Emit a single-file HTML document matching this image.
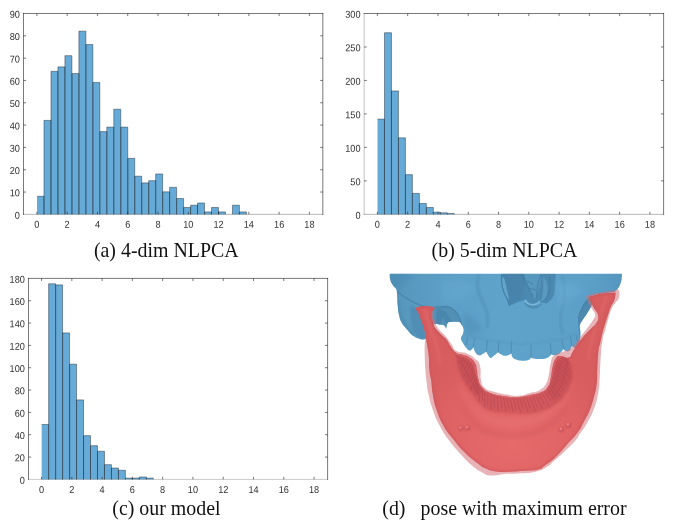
<!DOCTYPE html>
<html lang="en"><head><meta charset="utf-8"><title>Figure</title>
<style>
html,body{margin:0;padding:0;background:#fff;}
body{width:673px;height:528px;overflow:hidden;}
svg{display:block}
.bar{fill:#66aad7}
.edge{fill:none;stroke:#16232e;stroke-width:0.55;stroke-opacity:0.8}
.box{fill:none;stroke-linecap:square;stroke:#262626;stroke-width:0.62}
.tick{fill:none;stroke:#262626;stroke-width:0.62}
.tl{font-family:"Liberation Sans",sans-serif;font-size:10px;fill:#303030}
.cap{font-family:"Liberation Serif",serif;font-size:19.9px;fill:#111}
</style></head>
<body>
<svg width="673" height="528" viewBox="0 0 673 528">
<rect width="673" height="528" fill="#fff"/>
<g id="plot-a">
<rect x="37.00" y="196.30" width="6.98" height="18.05" class="bar"/>
<rect x="43.98" y="120.42" width="6.98" height="93.93" class="bar"/>
<rect x="50.96" y="71.32" width="6.98" height="143.03" class="bar"/>
<rect x="57.94" y="66.86" width="6.98" height="147.49" class="bar"/>
<rect x="64.92" y="55.70" width="6.98" height="158.65" class="bar"/>
<rect x="71.90" y="73.55" width="6.98" height="140.80" class="bar"/>
<rect x="78.88" y="31.15" width="6.98" height="183.20" class="bar"/>
<rect x="85.86" y="44.54" width="6.98" height="169.81" class="bar"/>
<rect x="92.84" y="82.48" width="6.98" height="131.87" class="bar"/>
<rect x="99.82" y="131.58" width="6.98" height="82.77" class="bar"/>
<rect x="106.80" y="127.11" width="6.98" height="87.23" class="bar"/>
<rect x="113.78" y="109.26" width="6.98" height="105.09" class="bar"/>
<rect x="120.76" y="127.11" width="6.98" height="87.23" class="bar"/>
<rect x="127.74" y="158.36" width="6.98" height="55.99" class="bar"/>
<rect x="134.72" y="176.21" width="6.98" height="38.14" class="bar"/>
<rect x="141.70" y="182.91" width="6.98" height="31.44" class="bar"/>
<rect x="148.68" y="180.68" width="6.98" height="33.67" class="bar"/>
<rect x="155.66" y="173.98" width="6.98" height="40.37" class="bar"/>
<rect x="162.64" y="191.83" width="6.98" height="22.52" class="bar"/>
<rect x="169.62" y="187.37" width="6.98" height="26.98" class="bar"/>
<rect x="176.60" y="198.53" width="6.98" height="15.82" class="bar"/>
<rect x="183.58" y="207.46" width="6.98" height="6.89" class="bar"/>
<rect x="190.56" y="205.22" width="6.98" height="9.13" class="bar"/>
<rect x="197.54" y="202.99" width="6.98" height="11.36" class="bar"/>
<rect x="204.52" y="211.92" width="6.98" height="2.43" class="bar"/>
<rect x="211.50" y="207.46" width="6.98" height="6.89" class="bar"/>
<rect x="218.48" y="211.92" width="6.98" height="2.43" class="bar"/>
<rect x="232.44" y="205.22" width="6.98" height="9.13" class="bar"/>
<rect x="239.42" y="211.92" width="6.98" height="2.43" class="bar"/>
<path d="M37.00 196.30h6.98V214.35M43.98 214.35V120.42h6.98V214.35M50.96 214.35V71.32h6.98V214.35M57.94 214.35V66.86h6.98V214.35M64.92 214.35V55.70h6.98V214.35M71.90 214.35V73.55h6.98V214.35M78.88 214.35V31.15h6.98V214.35M85.86 214.35V44.54h6.98V214.35M92.84 214.35V82.48h6.98V214.35M99.82 214.35V131.58h6.98V214.35M106.80 214.35V127.11h6.98V214.35M113.78 214.35V109.26h6.98V214.35M120.76 214.35V127.11h6.98V214.35M127.74 214.35V158.36h6.98V214.35M134.72 214.35V176.21h6.98V214.35M141.70 214.35V182.91h6.98V214.35M148.68 214.35V180.68h6.98V214.35M155.66 214.35V173.98h6.98V214.35M162.64 214.35V191.83h6.98V214.35M169.62 214.35V187.37h6.98V214.35M176.60 214.35V198.53h6.98V214.35M183.58 214.35V207.46h6.98V214.35M190.56 214.35V205.22h6.98V214.35M197.54 214.35V202.99h6.98V214.35M204.52 214.35V211.92h6.98V214.35M211.50 214.35V207.46h6.98V214.35M218.48 214.35V211.92h6.98V214.35M232.44 214.35V205.22h6.98V214.35M239.42 214.35V211.92h6.98V214.35" class="edge"/>
<path d="M23.5 13.5H322.8" class="box" stroke-opacity="1"/>
<path d="M322.8 13.5V214.35" class="box" stroke-opacity="1"/>
<path d="M23.5 214.35H322.8" class="box" stroke-opacity="0.55"/>
<path d="M23.5 13.5V214.35" class="box" stroke-opacity="1"/>
<path d="M36.90 214.35v-2.6M36.90 13.5v2.6" class="tick"/>
<text transform="matrix(0.92 0.0005 -0.0005 1 36.90 227.85)" class="tl" text-anchor="middle">0</text>
<path d="M67.18 214.35v-2.6M67.18 13.5v2.6" class="tick"/>
<text transform="matrix(0.92 0.0005 -0.0005 1 67.18 227.85)" class="tl" text-anchor="middle">2</text>
<path d="M97.46 214.35v-2.6M97.46 13.5v2.6" class="tick"/>
<text transform="matrix(0.92 0.0005 -0.0005 1 97.46 227.85)" class="tl" text-anchor="middle">4</text>
<path d="M127.74 214.35v-2.6M127.74 13.5v2.6" class="tick"/>
<text transform="matrix(0.92 0.0005 -0.0005 1 127.74 227.85)" class="tl" text-anchor="middle">6</text>
<path d="M158.02 214.35v-2.6M158.02 13.5v2.6" class="tick"/>
<text transform="matrix(0.92 0.0005 -0.0005 1 158.02 227.85)" class="tl" text-anchor="middle">8</text>
<path d="M188.30 214.35v-2.6M188.30 13.5v2.6" class="tick"/>
<text transform="matrix(0.92 0.0005 -0.0005 1 188.30 227.85)" class="tl" text-anchor="middle">10</text>
<path d="M218.58 214.35v-2.6M218.58 13.5v2.6" class="tick"/>
<text transform="matrix(0.92 0.0005 -0.0005 1 218.58 227.85)" class="tl" text-anchor="middle">12</text>
<path d="M248.86 214.35v-2.6M248.86 13.5v2.6" class="tick"/>
<text transform="matrix(0.92 0.0005 -0.0005 1 248.86 227.85)" class="tl" text-anchor="middle">14</text>
<path d="M279.14 214.35v-2.6M279.14 13.5v2.6" class="tick"/>
<text transform="matrix(0.92 0.0005 -0.0005 1 279.14 227.85)" class="tl" text-anchor="middle">16</text>
<path d="M309.42 214.35v-2.6M309.42 13.5v2.6" class="tick"/>
<text transform="matrix(0.92 0.0005 -0.0005 1 309.42 227.85)" class="tl" text-anchor="middle">18</text>
<text transform="matrix(0.92 0.0005 -0.0005 1 19.90 218.65)" class="tl" text-anchor="end">0</text>
<path d="M23.5 192.03h2.6M322.8 192.03h-2.6" class="tick"/>
<text transform="matrix(0.92 0.0005 -0.0005 1 19.90 196.33)" class="tl" text-anchor="end">10</text>
<path d="M23.5 169.72h2.6M322.8 169.72h-2.6" class="tick"/>
<text transform="matrix(0.92 0.0005 -0.0005 1 19.90 174.02)" class="tl" text-anchor="end">20</text>
<path d="M23.5 147.40h2.6M322.8 147.40h-2.6" class="tick"/>
<text transform="matrix(0.92 0.0005 -0.0005 1 19.90 151.70)" class="tl" text-anchor="end">30</text>
<path d="M23.5 125.08h2.6M322.8 125.08h-2.6" class="tick"/>
<text transform="matrix(0.92 0.0005 -0.0005 1 19.90 129.38)" class="tl" text-anchor="end">40</text>
<path d="M23.5 102.77h2.6M322.8 102.77h-2.6" class="tick"/>
<text transform="matrix(0.92 0.0005 -0.0005 1 19.90 107.07)" class="tl" text-anchor="end">50</text>
<path d="M23.5 80.45h2.6M322.8 80.45h-2.6" class="tick"/>
<text transform="matrix(0.92 0.0005 -0.0005 1 19.90 84.75)" class="tl" text-anchor="end">60</text>
<path d="M23.5 58.13h2.6M322.8 58.13h-2.6" class="tick"/>
<text transform="matrix(0.92 0.0005 -0.0005 1 19.90 62.43)" class="tl" text-anchor="end">70</text>
<path d="M23.5 35.82h2.6M322.8 35.82h-2.6" class="tick"/>
<text transform="matrix(0.92 0.0005 -0.0005 1 19.90 40.12)" class="tl" text-anchor="end">80</text>
<text transform="matrix(0.92 0.0005 -0.0005 1 19.90 17.80)" class="tl" text-anchor="end">90</text>
</g>
<g id="plot-b">
<rect x="377.50" y="119.08" width="6.98" height="95.27" class="bar"/>
<rect x="384.48" y="32.72" width="6.98" height="181.63" class="bar"/>
<rect x="391.46" y="90.96" width="6.98" height="123.39" class="bar"/>
<rect x="398.44" y="137.83" width="6.98" height="76.52" class="bar"/>
<rect x="405.42" y="174.65" width="6.98" height="39.70" class="bar"/>
<rect x="412.40" y="193.40" width="6.98" height="20.95" class="bar"/>
<rect x="419.38" y="203.44" width="6.98" height="10.91" class="bar"/>
<rect x="426.36" y="207.46" width="6.98" height="6.89" class="bar"/>
<rect x="433.34" y="212.14" width="6.98" height="2.21" class="bar"/>
<rect x="440.32" y="212.81" width="6.98" height="1.54" class="bar"/>
<rect x="447.30" y="213.48" width="6.98" height="0.87" class="bar"/>
<path d="M377.50 119.08h6.98V214.35M384.48 214.35V32.72h6.98V214.35M391.46 214.35V90.96h6.98V214.35M398.44 214.35V137.83h6.98V214.35M405.42 214.35V174.65h6.98V214.35M412.40 214.35V193.40h6.98V214.35M419.38 214.35V203.44h6.98V214.35M426.36 214.35V207.46h6.98V214.35M433.34 214.35V212.14h6.98V214.35M440.32 214.35V212.81h6.98V214.35M447.30 214.35V213.48h6.98V214.35" class="edge"/>
<path d="M364.15 13.5H663.6" class="box" stroke-opacity="1"/>
<path d="M663.6 13.5V214.35" class="box" stroke-opacity="1"/>
<path d="M364.15 214.35H663.6" class="box" stroke-opacity="0.55"/>
<path d="M364.15 13.5V214.35" class="box" stroke-opacity="0.45"/>
<path d="M377.40 214.35v-2.6M377.40 13.5v2.6" class="tick"/>
<text transform="matrix(0.92 0.0005 -0.0005 1 377.40 227.85)" class="tl" text-anchor="middle">0</text>
<path d="M407.68 214.35v-2.6M407.68 13.5v2.6" class="tick"/>
<text transform="matrix(0.92 0.0005 -0.0005 1 407.68 227.85)" class="tl" text-anchor="middle">2</text>
<path d="M437.96 214.35v-2.6M437.96 13.5v2.6" class="tick"/>
<text transform="matrix(0.92 0.0005 -0.0005 1 437.96 227.85)" class="tl" text-anchor="middle">4</text>
<path d="M468.24 214.35v-2.6M468.24 13.5v2.6" class="tick"/>
<text transform="matrix(0.92 0.0005 -0.0005 1 468.24 227.85)" class="tl" text-anchor="middle">6</text>
<path d="M498.52 214.35v-2.6M498.52 13.5v2.6" class="tick"/>
<text transform="matrix(0.92 0.0005 -0.0005 1 498.52 227.85)" class="tl" text-anchor="middle">8</text>
<path d="M528.80 214.35v-2.6M528.80 13.5v2.6" class="tick"/>
<text transform="matrix(0.92 0.0005 -0.0005 1 528.80 227.85)" class="tl" text-anchor="middle">10</text>
<path d="M559.08 214.35v-2.6M559.08 13.5v2.6" class="tick"/>
<text transform="matrix(0.92 0.0005 -0.0005 1 559.08 227.85)" class="tl" text-anchor="middle">12</text>
<path d="M589.36 214.35v-2.6M589.36 13.5v2.6" class="tick"/>
<text transform="matrix(0.92 0.0005 -0.0005 1 589.36 227.85)" class="tl" text-anchor="middle">14</text>
<path d="M619.64 214.35v-2.6M619.64 13.5v2.6" class="tick"/>
<text transform="matrix(0.92 0.0005 -0.0005 1 619.64 227.85)" class="tl" text-anchor="middle">16</text>
<path d="M649.92 214.35v-2.6M649.92 13.5v2.6" class="tick"/>
<text transform="matrix(0.92 0.0005 -0.0005 1 649.92 227.85)" class="tl" text-anchor="middle">18</text>
<text transform="matrix(0.92 0.0005 -0.0005 1 360.55 218.65)" class="tl" text-anchor="end">0</text>
<path d="M364.15 180.88h2.6M663.6 180.88h-2.6" class="tick"/>
<text transform="matrix(0.92 0.0005 -0.0005 1 360.55 185.18)" class="tl" text-anchor="end">50</text>
<path d="M364.15 147.40h2.6M663.6 147.40h-2.6" class="tick"/>
<text transform="matrix(0.92 0.0005 -0.0005 1 360.55 151.70)" class="tl" text-anchor="end">100</text>
<path d="M364.15 113.92h2.6M663.6 113.92h-2.6" class="tick"/>
<text transform="matrix(0.92 0.0005 -0.0005 1 360.55 118.22)" class="tl" text-anchor="end">150</text>
<path d="M364.15 80.45h2.6M663.6 80.45h-2.6" class="tick"/>
<text transform="matrix(0.92 0.0005 -0.0005 1 360.55 84.75)" class="tl" text-anchor="end">200</text>
<path d="M364.15 46.97h2.6M663.6 46.97h-2.6" class="tick"/>
<text transform="matrix(0.92 0.0005 -0.0005 1 360.55 51.27)" class="tl" text-anchor="end">250</text>
<text transform="matrix(0.92 0.0005 -0.0005 1 360.55 17.80)" class="tl" text-anchor="end">300</text>
</g>
<g id="plot-c">
<rect x="41.65" y="424.48" width="6.98" height="54.92" class="bar"/>
<rect x="48.63" y="283.78" width="6.98" height="195.62" class="bar"/>
<rect x="55.61" y="284.90" width="6.98" height="194.50" class="bar"/>
<rect x="62.59" y="332.92" width="6.98" height="146.48" class="bar"/>
<rect x="69.57" y="364.18" width="6.98" height="115.22" class="bar"/>
<rect x="76.55" y="399.92" width="6.98" height="79.48" class="bar"/>
<rect x="83.53" y="435.65" width="6.98" height="43.75" class="bar"/>
<rect x="90.51" y="445.70" width="6.98" height="33.70" class="bar"/>
<rect x="97.49" y="451.28" width="6.98" height="28.12" class="bar"/>
<rect x="104.47" y="464.68" width="6.98" height="14.72" class="bar"/>
<rect x="111.45" y="468.03" width="6.98" height="11.37" class="bar"/>
<rect x="118.43" y="470.27" width="6.98" height="9.13" class="bar"/>
<rect x="125.41" y="478.08" width="6.98" height="1.32" class="bar"/>
<rect x="132.39" y="478.08" width="6.98" height="1.32" class="bar"/>
<rect x="139.37" y="476.97" width="6.98" height="2.43" class="bar"/>
<rect x="146.35" y="478.08" width="6.98" height="1.32" class="bar"/>
<path d="M41.65 424.48h6.98V479.4M48.63 479.4V283.78h6.98V479.4M55.61 479.4V284.90h6.98V479.4M62.59 479.4V332.92h6.98V479.4M69.57 479.4V364.18h6.98V479.4M76.55 479.4V399.92h6.98V479.4M83.53 479.4V435.65h6.98V479.4M90.51 479.4V445.70h6.98V479.4M97.49 479.4V451.28h6.98V479.4M104.47 479.4V464.68h6.98V479.4M111.45 479.4V468.03h6.98V479.4M118.43 479.4V470.27h6.98V479.4M125.41 479.4V478.08h6.98V479.4M132.39 479.4V478.08h6.98V479.4M139.37 479.4V476.97h6.98V479.4M146.35 479.4V478.08h6.98V479.4" class="edge"/>
<path d="M28.5 278.4H327.6" class="box" stroke-opacity="1"/>
<path d="M327.6 278.4V479.4" class="box" stroke-opacity="1"/>
<path d="M28.5 479.4H327.6" class="box" stroke-opacity="0.4"/>
<path d="M28.5 278.4V479.4" class="box" stroke-opacity="1"/>
<path d="M41.55 479.4v-2.6M41.55 278.4v2.6" class="tick"/>
<text transform="matrix(0.92 0.0005 -0.0005 1 41.55 492.90)" class="tl" text-anchor="middle">0</text>
<path d="M71.83 479.4v-2.6M71.83 278.4v2.6" class="tick"/>
<text transform="matrix(0.92 0.0005 -0.0005 1 71.83 492.90)" class="tl" text-anchor="middle">2</text>
<path d="M102.11 479.4v-2.6M102.11 278.4v2.6" class="tick"/>
<text transform="matrix(0.92 0.0005 -0.0005 1 102.11 492.90)" class="tl" text-anchor="middle">4</text>
<path d="M132.39 479.4v-2.6M132.39 278.4v2.6" class="tick"/>
<text transform="matrix(0.92 0.0005 -0.0005 1 132.39 492.90)" class="tl" text-anchor="middle">6</text>
<path d="M162.67 479.4v-2.6M162.67 278.4v2.6" class="tick"/>
<text transform="matrix(0.92 0.0005 -0.0005 1 162.67 492.90)" class="tl" text-anchor="middle">8</text>
<path d="M192.95 479.4v-2.6M192.95 278.4v2.6" class="tick"/>
<text transform="matrix(0.92 0.0005 -0.0005 1 192.95 492.90)" class="tl" text-anchor="middle">10</text>
<path d="M223.23 479.4v-2.6M223.23 278.4v2.6" class="tick"/>
<text transform="matrix(0.92 0.0005 -0.0005 1 223.23 492.90)" class="tl" text-anchor="middle">12</text>
<path d="M253.51 479.4v-2.6M253.51 278.4v2.6" class="tick"/>
<text transform="matrix(0.92 0.0005 -0.0005 1 253.51 492.90)" class="tl" text-anchor="middle">14</text>
<path d="M283.79 479.4v-2.6M283.79 278.4v2.6" class="tick"/>
<text transform="matrix(0.92 0.0005 -0.0005 1 283.79 492.90)" class="tl" text-anchor="middle">16</text>
<path d="M314.07 479.4v-2.6M314.07 278.4v2.6" class="tick"/>
<text transform="matrix(0.92 0.0005 -0.0005 1 314.07 492.90)" class="tl" text-anchor="middle">18</text>
<text transform="matrix(0.92 0.0005 -0.0005 1 24.90 483.70)" class="tl" text-anchor="end">0</text>
<path d="M28.5 457.07h2.6M327.6 457.07h-2.6" class="tick"/>
<text transform="matrix(0.92 0.0005 -0.0005 1 24.90 461.37)" class="tl" text-anchor="end">20</text>
<path d="M28.5 434.73h2.6M327.6 434.73h-2.6" class="tick"/>
<text transform="matrix(0.92 0.0005 -0.0005 1 24.90 439.03)" class="tl" text-anchor="end">40</text>
<path d="M28.5 412.40h2.6M327.6 412.40h-2.6" class="tick"/>
<text transform="matrix(0.92 0.0005 -0.0005 1 24.90 416.70)" class="tl" text-anchor="end">60</text>
<path d="M28.5 390.07h2.6M327.6 390.07h-2.6" class="tick"/>
<text transform="matrix(0.92 0.0005 -0.0005 1 24.90 394.37)" class="tl" text-anchor="end">80</text>
<path d="M28.5 367.73h2.6M327.6 367.73h-2.6" class="tick"/>
<text transform="matrix(0.92 0.0005 -0.0005 1 24.90 372.03)" class="tl" text-anchor="end">100</text>
<path d="M28.5 345.40h2.6M327.6 345.40h-2.6" class="tick"/>
<text transform="matrix(0.92 0.0005 -0.0005 1 24.90 349.70)" class="tl" text-anchor="end">120</text>
<path d="M28.5 323.07h2.6M327.6 323.07h-2.6" class="tick"/>
<text transform="matrix(0.92 0.0005 -0.0005 1 24.90 327.37)" class="tl" text-anchor="end">140</text>
<path d="M28.5 300.73h2.6M327.6 300.73h-2.6" class="tick"/>
<text transform="matrix(0.92 0.0005 -0.0005 1 24.90 305.03)" class="tl" text-anchor="end">160</text>
<text transform="matrix(0.92 0.0005 -0.0005 1 24.90 282.70)" class="tl" text-anchor="end">180</text>
</g>
<g id="jaw">
<defs>
<linearGradient id="gsk" x1="389" y1="0" x2="622" y2="0" gradientUnits="userSpaceOnUse">
<stop offset="0" stop-color="#4f8fb6"/><stop offset="0.07" stop-color="#5898bf"/><stop offset="0.25" stop-color="#5c9fc7"/><stop offset="0.5" stop-color="#5fa3cb"/><stop offset="0.85" stop-color="#5ca0c8"/><stop offset="1" stop-color="#5596be"/>
</linearGradient>
<radialGradient id="gjw" cx="512" cy="440" r="95" gradientUnits="userSpaceOnUse">
<stop offset="0" stop-color="#e66a6a"/><stop offset="0.6" stop-color="#e06465"/><stop offset="1" stop-color="#d85d5f"/>
</radialGradient>
<filter id="b0" x="-20%" y="-20%" width="140%" height="140%"><feGaussianBlur stdDeviation="0.5"/></filter>
<filter id="b1" x="-20%" y="-20%" width="140%" height="140%"><feGaussianBlur stdDeviation="1.2"/></filter>
<filter id="b2" x="-20%" y="-20%" width="140%" height="140%"><feGaussianBlur stdDeviation="2.5"/></filter>

<clipPath id="cjaw"><path d="M591.4 296.1C594.1 295.5 594.9 294.6 601.4 293.7C607.9 292.8 611.9 292.9 615.7 292.6C615.4 294.5 615.7 296.2 614.4 299.9C613.1 303.6 612.8 302.3 611.0 306.5C609.2 310.7 609.3 311.2 607.7 315.8C606.1 320.4 606.5 319.2 605.1 323.8C603.7 328.4 603.7 328.1 602.4 333.0C601.1 337.9 601.5 337.4 600.4 342.3C599.3 347.2 599.2 344.4 598.4 351.4C597.6 358.4 597.8 359.8 597.3 368.4C596.8 377.0 597.6 376.0 596.7 383.6C595.8 391.2 595.9 389.7 594.0 396.8C592.1 403.9 592.4 403.5 589.7 410.1C587.0 416.7 587.3 415.4 584.0 421.5C580.7 427.6 581.9 426.7 577.4 432.8C572.9 438.9 572.7 438.1 567.0 444.5C561.3 450.9 561.8 451.1 555.9 456.8C550.0 462.5 549.4 462.3 544.7 465.7C540.0 469.1 543.4 468.1 538.1 469.5C532.8 470.9 531.8 470.2 524.7 470.8C517.6 471.4 518.4 471.5 511.3 471.7C504.2 471.9 504.4 472.4 497.9 471.7C491.4 471.0 492.1 471.2 486.8 469.0C481.5 466.8 483.9 468.0 477.9 463.5C471.9 459.0 471.0 458.6 464.3 452.0C457.6 445.4 458.5 445.8 452.9 438.7C447.3 431.6 447.7 433.1 443.4 425.5C439.1 417.9 439.6 418.4 436.8 410.3C434.0 402.2 434.5 403.3 433.0 395.2C431.5 387.1 432.1 386.7 431.1 380.0C430.1 373.3 430.0 376.2 429.4 369.9C428.8 363.6 429.3 362.4 428.8 356.2C428.3 350.0 428.1 351.4 427.4 346.8C426.7 342.2 426.8 343.1 426.1 338.8C425.4 334.5 425.8 335.1 424.7 330.8C423.6 326.5 423.7 327.3 422.1 322.7C420.5 318.1 420.1 317.5 418.7 313.4C417.3 309.3 412.9 309.1 416.7 307.5C420.5 305.9 428.9 305.9 432.8 307.5C436.7 309.1 431.4 309.7 431.4 313.4C431.4 317.1 431.7 317.5 432.8 321.4C433.9 325.3 433.1 324.5 435.4 328.1C437.7 331.7 438.5 331.6 441.5 334.8C444.5 338.0 444.3 336.9 446.8 340.1C449.3 343.3 448.3 343.4 450.8 346.8C453.3 350.2 453.0 350.7 456.2 352.8C459.4 354.9 459.4 353.5 462.9 354.8C466.4 356.1 466.3 355.3 469.5 357.5C472.7 359.7 472.9 359.6 474.9 362.9C476.9 366.2 476.0 365.8 476.9 369.9C477.8 374.0 476.7 373.6 478.1 378.2C479.5 382.8 478.6 383.2 482.1 387.2C485.6 391.2 484.9 390.8 491.1 393.2C497.3 395.6 498.8 395.1 505.2 396.2C511.6 397.3 508.8 397.5 515.2 397.2C521.6 396.9 522.2 396.6 529.2 395.2C536.2 393.8 536.4 394.4 541.4 392.1C546.4 389.8 545.5 390.2 548.0 386.4C550.5 382.6 549.5 383.2 550.8 377.9C552.1 372.6 551.4 371.6 552.7 366.5C554.0 361.4 553.6 361.7 555.6 358.9C557.6 356.1 556.8 356.5 560.3 356.1C563.8 355.7 565.3 359.0 568.8 357.5C572.3 356.0 570.2 355.4 573.5 350.5C576.8 345.6 576.5 345.2 581.3 339.3C586.1 333.4 587.5 332.4 591.4 328.3C595.3 324.2 594.0 327.1 595.8 323.8C597.6 320.5 598.9 320.4 598.2 315.8C597.5 311.2 595.3 311.1 593.1 306.5C590.9 301.9 590.5 301.3 590.0 298.5C589.5 295.7 591.0 296.7 591.4 296.1Z"/></clipPath>
<clipPath id="cskull"><path d="M389.7 273.8C443.9 273.8 567.7 273.8 621.9 273.8C621.8 275.2 622.1 277.2 621.5 280.0C620.9 282.8 620.5 283.8 619.5 286.0C618.5 288.2 618.2 288.1 617.0 289.5C615.8 290.9 615.1 291.4 614.5 292.0C611.4 292.4 606.6 292.6 601.4 293.7C596.1 294.8 594.2 294.1 592.0 296.5C589.8 298.9 592.9 300.4 592.0 304.0C591.1 307.6 590.1 308.4 588.0 312.0C585.9 315.6 584.9 316.5 583.0 319.5C581.1 322.5 580.6 321.9 580.0 325.0C579.4 328.1 580.5 329.6 580.5 333.0C580.5 336.4 580.3 337.4 579.9 339.7C579.5 342.0 579.4 341.0 578.8 342.8C578.2 344.6 577.6 346.4 577.2 347.5C576.7 347.6 576.3 348.4 575.1 348.0C573.9 347.6 572.7 346.4 572.0 345.9C571.8 346.4 571.7 346.8 571.0 348.0C570.3 349.2 570.1 350.4 568.9 351.1C567.7 351.8 567.1 351.6 565.8 351.1C564.5 350.6 563.8 349.5 563.2 349.0C562.8 349.6 562.7 350.4 561.6 351.6C560.5 352.8 560.2 353.3 558.5 354.2C556.8 355.1 556.0 355.3 554.3 355.3C552.6 355.3 551.9 354.5 551.2 354.2C551.0 354.6 551.2 354.9 550.2 355.8C549.2 356.7 549.2 357.2 547.0 357.9C544.8 358.6 543.9 358.8 540.8 358.9C537.6 359.0 535.8 358.8 533.5 358.4C531.2 358.0 531.5 357.6 530.9 357.4C530.5 357.9 530.7 358.6 529.4 359.4C528.1 360.2 527.4 360.4 525.2 360.7C523.0 361.0 521.8 360.7 520.0 360.5C518.2 360.3 519.1 360.7 517.4 360.0C515.7 359.3 514.1 359.0 512.7 357.4C511.3 355.8 511.6 354.2 511.2 353.2C510.7 353.6 510.6 354.2 509.1 354.8C507.6 355.4 506.8 355.9 504.9 355.8C503.0 355.7 502.4 355.0 500.8 354.2C499.2 353.4 498.8 352.7 498.2 352.2C497.3 352.9 496.2 354.0 494.5 355.3C492.8 356.6 492.2 357.7 490.9 357.9C489.6 358.1 489.9 357.8 488.8 356.3C487.7 354.8 486.8 352.7 486.2 351.6C485.5 352.1 484.8 352.8 483.1 353.7C481.4 354.6 480.7 355.7 478.9 355.3C477.1 354.9 476.6 354.1 475.3 352.2C474.0 350.3 473.7 348.2 473.2 347.0C473.0 347.5 473.0 348.2 472.2 349.0C471.4 349.8 471.0 350.8 469.6 350.6C468.2 350.4 468.0 349.8 466.4 348.0C464.8 346.2 464.0 345.0 462.8 342.8C461.6 340.6 461.1 341.0 461.2 338.6C461.3 336.2 462.8 334.8 463.3 332.4C463.8 330.0 463.7 330.0 463.3 328.2C462.9 326.4 462.6 326.1 461.5 324.7C460.4 323.3 461.3 322.7 458.8 322.1C456.3 321.5 453.4 321.8 450.8 322.1C448.2 322.4 448.6 321.9 447.5 323.5C446.4 325.1 446.6 327.6 446.3 328.8C445.8 328.0 445.5 326.4 444.1 325.4C442.7 324.4 442.3 325.0 440.1 324.7C437.9 324.4 437.2 322.9 434.8 324.1C432.4 325.3 432.0 326.6 430.0 330.0C428.0 333.4 427.0 336.7 426.1 338.8C425.0 338.9 424.4 340.0 421.4 339.4C418.4 338.8 416.8 338.4 413.4 336.1C410.0 333.8 409.7 332.6 407.0 329.5C404.3 326.4 403.6 326.2 401.7 322.8C399.8 319.4 399.9 318.9 399.0 314.8C398.1 310.7 398.2 310.1 397.7 305.4C397.2 300.7 397.3 298.4 397.0 294.7C396.7 291.0 397.3 291.6 396.4 289.4C395.5 287.2 394.4 287.6 393.0 285.4C391.6 283.2 391.1 282.7 390.3 280.0C389.5 277.3 389.8 275.2 389.7 273.8Z"/></clipPath>
</defs>
<path d="M389.7 273.8C443.9 273.8 567.7 273.8 621.9 273.8C621.8 275.2 622.1 277.2 621.5 280.0C620.9 282.8 620.5 283.8 619.5 286.0C618.5 288.2 618.2 288.1 617.0 289.5C615.8 290.9 615.1 291.4 614.5 292.0C611.4 292.4 606.6 292.6 601.4 293.7C596.1 294.8 594.2 294.1 592.0 296.5C589.8 298.9 592.9 300.4 592.0 304.0C591.1 307.6 590.1 308.4 588.0 312.0C585.9 315.6 584.9 316.5 583.0 319.5C581.1 322.5 580.6 321.9 580.0 325.0C579.4 328.1 580.5 329.6 580.5 333.0C580.5 336.4 580.3 337.4 579.9 339.7C579.5 342.0 579.4 341.0 578.8 342.8C578.2 344.6 577.6 346.4 577.2 347.5C576.7 347.6 576.3 348.4 575.1 348.0C573.9 347.6 572.7 346.4 572.0 345.9C571.8 346.4 571.7 346.8 571.0 348.0C570.3 349.2 570.1 350.4 568.9 351.1C567.7 351.8 567.1 351.6 565.8 351.1C564.5 350.6 563.8 349.5 563.2 349.0C562.8 349.6 562.7 350.4 561.6 351.6C560.5 352.8 560.2 353.3 558.5 354.2C556.8 355.1 556.0 355.3 554.3 355.3C552.6 355.3 551.9 354.5 551.2 354.2C551.0 354.6 551.2 354.9 550.2 355.8C549.2 356.7 549.2 357.2 547.0 357.9C544.8 358.6 543.9 358.8 540.8 358.9C537.6 359.0 535.8 358.8 533.5 358.4C531.2 358.0 531.5 357.6 530.9 357.4C530.5 357.9 530.7 358.6 529.4 359.4C528.1 360.2 527.4 360.4 525.2 360.7C523.0 361.0 521.8 360.7 520.0 360.5C518.2 360.3 519.1 360.7 517.4 360.0C515.7 359.3 514.1 359.0 512.7 357.4C511.3 355.8 511.6 354.2 511.2 353.2C510.7 353.6 510.6 354.2 509.1 354.8C507.6 355.4 506.8 355.9 504.9 355.8C503.0 355.7 502.4 355.0 500.8 354.2C499.2 353.4 498.8 352.7 498.2 352.2C497.3 352.9 496.2 354.0 494.5 355.3C492.8 356.6 492.2 357.7 490.9 357.9C489.6 358.1 489.9 357.8 488.8 356.3C487.7 354.8 486.8 352.7 486.2 351.6C485.5 352.1 484.8 352.8 483.1 353.7C481.4 354.6 480.7 355.7 478.9 355.3C477.1 354.9 476.6 354.1 475.3 352.2C474.0 350.3 473.7 348.2 473.2 347.0C473.0 347.5 473.0 348.2 472.2 349.0C471.4 349.8 471.0 350.8 469.6 350.6C468.2 350.4 468.0 349.8 466.4 348.0C464.8 346.2 464.0 345.0 462.8 342.8C461.6 340.6 461.1 341.0 461.2 338.6C461.3 336.2 462.8 334.8 463.3 332.4C463.8 330.0 463.7 330.0 463.3 328.2C462.9 326.4 462.6 326.1 461.5 324.7C460.4 323.3 461.3 322.7 458.8 322.1C456.3 321.5 453.4 321.8 450.8 322.1C448.2 322.4 448.6 321.9 447.5 323.5C446.4 325.1 446.6 327.6 446.3 328.8C445.8 328.0 445.5 326.4 444.1 325.4C442.7 324.4 442.3 325.0 440.1 324.7C437.9 324.4 437.2 322.9 434.8 324.1C432.4 325.3 432.0 326.6 430.0 330.0C428.0 333.4 427.0 336.7 426.1 338.8C425.0 338.9 424.4 340.0 421.4 339.4C418.4 338.8 416.8 338.4 413.4 336.1C410.0 333.8 409.7 332.6 407.0 329.5C404.3 326.4 403.6 326.2 401.7 322.8C399.8 319.4 399.9 318.9 399.0 314.8C398.1 310.7 398.2 310.1 397.7 305.4C397.2 300.7 397.3 298.4 397.0 294.7C396.7 291.0 397.3 291.6 396.4 289.4C395.5 287.2 394.4 287.6 393.0 285.4C391.6 283.2 391.1 282.7 390.3 280.0C389.5 277.3 389.8 275.2 389.7 273.8Z" fill="url(#gsk)"/>
<g clip-path="url(#cskull)">
<path d="M389 273H414C410 280 404 287 396 290L392 284Z" fill="#4c8bb2" fill-opacity="0.55" filter="url(#b2)"/>
<path d="M410 306L419 309L427 339H420L412 330Z" fill="#4783aa" fill-opacity="0.55" filter="url(#b1)"/>
<path d="M397 300C399 316 404 327 414 335" stroke="#4a88af" stroke-opacity="0.6" stroke-width="3" fill="none" filter="url(#b1)"/>
<path d="M432.8 307.5C436.1 307.3 441.8 306.0 447.0 306.8C452.2 307.6 451.9 307.9 455.0 311.0C458.1 314.1 458.8 316.0 460.5 320.0C462.2 324.0 462.0 326.1 462.5 328.0C462.3 327.2 462.4 326.1 461.5 324.7C460.6 323.3 461.3 322.7 458.8 322.1C456.3 321.5 453.4 321.8 450.8 322.1C448.2 322.4 448.6 321.9 447.5 323.5C446.4 325.1 446.6 327.6 446.3 328.8C445.8 328.0 445.5 326.4 444.1 325.4C442.7 324.4 442.3 325.0 440.1 324.7C437.9 324.4 436.7 325.7 434.8 324.1C432.9 322.5 432.5 321.9 432.0 318.0C431.5 314.1 432.6 309.9 432.8 307.5Z" fill="#5290b6"/>
<path d="M592.0 296.5C593.5 297.2 592.9 300.4 592.0 304.0C591.1 307.6 590.1 308.4 588.0 312.0C585.9 315.6 584.9 316.5 583.0 319.5C581.1 322.5 581.0 325.6 580.0 325.0C579.0 324.4 578.3 320.7 578.5 317.0C578.7 313.3 579.4 312.7 581.0 309.0C582.6 305.3 582.9 303.9 585.5 301.0C588.1 298.1 590.5 295.8 592.0 296.5Z" fill="#4d89ae"/>
<path d="M394.5 289.5C402 296 412 302 422 306C430 308.2 440 306.5 447 306.5C453 307.5 458 313 460.5 320C462 326 461 333 461.5 339" stroke="#447fa5" stroke-opacity="0.75" stroke-width="1.3" fill="none" filter="url(#b0)"/>
<path d="M614 292C605 293 596 294 591 297.5C585 302 580 311 578.5 318C578 326 581 333 579.5 342" stroke="#447fa5" stroke-opacity="0.6" stroke-width="1.2" fill="none" filter="url(#b0)"/>
<path d="M437 308L446 312L452 322L446 323L443 316L440 324L436 323Z" fill="#467fa4" fill-opacity="0.55" filter="url(#b0)"/>
<path d="M501.0 273.8C511.9 273.8 544.6 273.8 555.5 273.8C555.5 275.0 555.7 276.4 555.5 280.0C555.3 283.6 555.2 288.1 554.5 291.8C553.8 295.5 553.6 296.2 552.0 298.5C550.4 300.8 547.6 302.5 546.5 303.5C545.2 303.3 541.7 302.0 539.9 302.5C538.1 303.0 539.3 305.1 537.6 306.0C535.9 306.9 533.7 307.4 531.6 307.2C529.5 307.0 528.3 306.3 526.9 304.9C525.5 303.5 525.0 301.1 524.5 300.1C523.1 300.6 520.4 301.3 517.3 302.5C514.2 303.7 510.7 305.3 509.0 306.0C508.5 304.6 507.8 301.7 506.6 298.9C505.4 296.1 504.2 294.9 503.1 291.8C502.0 288.7 501.7 287.1 501.3 283.5C500.9 279.9 501.1 275.7 501.0 273.8Z" fill="#4b89b0"/>
<path d="M503.0 273.8C507.0 273.8 519.0 273.8 523.0 273.8C523.4 275.4 525.0 278.4 525.0 282.0C525.0 285.6 523.8 288.6 523.0 292.0C522.2 295.4 522.4 297.1 521.0 299.0C519.6 300.9 518.2 300.4 516.0 301.5C513.8 302.6 511.2 303.9 510.0 304.5C509.5 303.2 508.6 300.7 507.5 298.0C506.4 295.3 505.5 294.0 504.5 291.0C503.5 288.0 502.8 286.4 502.5 283.0C502.2 279.6 502.9 275.6 503.0 273.8Z" fill="#4783aa"/>
<path d="M502.0 281.0C502.0 278.4 502.8 276.6 503.5 277.0C504.2 277.4 504.7 280.0 505.5 283.0C506.3 286.0 506.8 288.8 507.5 292.0C508.2 295.2 509.2 298.0 509.0 299.0C508.8 300.0 507.6 298.8 506.5 297.0C505.4 295.2 504.4 293.2 503.5 290.0C502.6 286.8 502.0 283.6 502.0 281.0Z" fill="#62a4ca"/>
<path d="M524 274C526 281 529 287 531 293L535 299L538 292C540 286 541 280 541 274Z" fill="#5a9ac0" fill-opacity="0.8" filter="url(#b0)"/>
<path d="M543 276C547 281 549 288 547 295C546 299 543 301 541 301C543 295 544 286 543 276Z" fill="#5d9dc3" fill-opacity="0.8" filter="url(#b0)"/>
<path d="M522 274C525 282 529 289 533 296M541 274C538 282 536 290 537 298M549 276C551 284 550 293 545 300M527 281L533 284M529 288L536 290" stroke="#3f789e" stroke-opacity="0.75" stroke-width="0.9" fill="none"/>
<path d="M501.5 274C500.5 284 503.5 293 507.5 300L509.5 306" stroke="#3f789e" stroke-opacity="0.6" stroke-width="1.1" fill="none" filter="url(#b0)"/>
<path d="M525.5 300.5C528 305.5 536 306.5 539.5 301.5" stroke="#78b5d8" stroke-width="1.8" fill="none" stroke-linecap="round"/>
<path d="M524.5 303C528 309 537 310 541.5 304" stroke="#4a88ae" stroke-opacity="0.7" stroke-width="1.3" fill="none" filter="url(#b0)"/>
<path d="M534.5 309V324" stroke="#4f8fb6" stroke-opacity="0.7" stroke-width="1.6" fill="none" filter="url(#b1)"/>
<path d="M479 274C476 283 477 292 482 300C487 309 489 318 487 328" stroke="#4f8db4" stroke-opacity="0.65" stroke-width="2.6" fill="none" filter="url(#b1)"/>
<path d="M562 276C566 286 566 298 562 308C559 318 560 326 563 334" stroke="#4f8db4" stroke-opacity="0.55" stroke-width="2.6" fill="none" filter="url(#b1)"/>
<path d="M463 312C470 314 478 320 483 330L470 334L463 330Z" fill="#4f8db4" fill-opacity="0.5" filter="url(#b2)"/>
<path d="M556 282C566 280 578 284 584 292C576 296 566 300 560 310Z" fill="#6cadd2" fill-opacity="0.45" filter="url(#b2)"/>
<path d="M440 282C452 278 468 280 476 288C470 298 456 304 444 302Z" fill="#6aabd0" fill-opacity="0.35" filter="url(#b2)"/>
<path d="M572 345.9l-1.5 -9M563.2 349l-1.2 -10M551.2 354.2l-0.8 -11M530.9 357.4l0 -12M511.2 353.2l0.3 -12M498.2 352.2l0.8 -11M486.2 351.6l1.2 -11M473.2 347l1.5 -9M466 345l1.5 -8M577.5 343l-1 -7" stroke="#4682aa" stroke-opacity="0.6" stroke-width="1.1" fill="none" stroke-linecap="round" filter="url(#b0)"/>
<path d="M464 333C480 340 500 343 521 344C542 343 562 340 579 334" stroke="#5594bb" stroke-opacity="0.55" stroke-width="2.2" fill="none" filter="url(#b1)"/>
</g>
<path d="M417.0 307.5C420.8 305.7 428.6 305.0 433.0 306.5C437.4 308.0 433.0 309.1 433.5 313.0C434.0 316.9 433.8 317.0 435.0 321.0C436.2 325.0 435.2 324.0 438.0 328.0C440.8 332.0 441.9 331.8 445.5 336.1C449.1 340.4 448.6 340.2 451.5 344.1C454.4 348.0 452.1 348.3 456.2 350.8C460.3 353.3 461.9 351.4 466.9 353.5C471.9 355.6 471.4 355.5 474.9 358.8C478.4 362.1 478.4 360.3 480.0 366.0C481.6 371.7 479.7 374.1 481.0 380.0C482.3 385.9 481.3 384.8 485.0 388.0C488.7 391.2 489.1 390.2 495.0 392.0C500.9 393.8 500.6 393.6 507.0 394.6C513.4 395.6 512.9 396.2 519.0 395.8C525.1 395.4 524.5 394.5 530.0 393.0C535.5 391.5 535.2 392.7 539.5 390.2C543.8 387.7 543.6 387.9 546.1 383.6C548.6 379.3 547.6 379.7 548.9 374.1C550.2 368.5 549.4 367.7 550.8 362.7C552.2 357.7 551.0 358.4 554.0 355.5C557.0 352.6 557.5 354.0 562.0 352.0C566.5 350.0 565.9 352.3 571.0 348.0C576.1 343.7 576.5 341.5 581.2 335.7C585.9 329.9 585.3 330.6 588.5 326.4C591.7 322.2 591.3 323.0 593.1 319.8C594.9 316.6 595.6 317.7 595.1 314.5C594.6 311.3 593.5 312.0 591.2 307.8C588.9 303.6 587.1 302.0 586.5 298.6C585.9 295.2 585.4 296.6 589.0 295.0C592.6 293.4 593.3 293.7 600.0 292.5C606.7 291.3 609.1 291.3 614.0 290.5C618.9 289.7 617.0 287.7 618.3 289.5C619.6 291.3 619.7 293.7 619.0 297.2C618.3 300.7 617.6 299.5 615.7 302.5C613.8 305.5 613.6 304.3 611.7 308.5C609.8 312.7 610.2 312.6 608.4 318.4C606.6 324.2 606.7 324.4 605.1 330.4C603.5 336.4 603.6 333.4 602.4 341.0C601.2 348.6 601.3 349.1 600.6 358.9C599.9 368.7 600.4 368.3 599.7 377.9C599.0 387.5 599.5 386.3 597.8 394.9C596.1 403.5 596.4 402.5 593.5 410.1C590.6 417.7 590.6 416.8 586.8 423.4C583.0 430.0 582.2 430.3 579.3 434.7C576.4 439.1 579.8 435.6 575.9 440.0C572.0 444.4 570.7 445.5 564.8 451.2C558.9 456.9 558.4 457.0 553.7 461.2C549.0 465.4 551.8 464.0 547.0 466.8C542.2 469.6 543.5 469.9 535.8 471.7C528.1 473.5 525.7 472.9 518.0 473.5C510.3 474.1 514.0 473.3 506.9 473.8C499.8 474.3 497.9 475.8 491.3 475.5C484.7 475.2 487.5 475.2 482.3 472.5C477.1 469.8 477.6 470.3 471.8 465.3C466.0 460.3 466.6 460.5 460.5 453.9C454.4 447.3 454.7 448.2 449.1 440.6C443.5 433.0 443.9 433.6 439.6 425.5C435.3 417.4 436.0 418.9 433.0 410.3C430.0 401.7 430.1 401.4 428.3 393.3C426.5 385.2 427.2 386.2 426.4 380.0C425.6 373.8 425.9 377.0 425.4 369.9C424.9 362.8 424.8 360.9 424.7 353.5C424.6 346.1 424.7 345.9 424.9 342.0C425.1 338.1 425.6 341.8 425.5 338.8C425.4 335.8 425.4 335.1 424.5 330.8C423.6 326.5 423.6 327.3 422.0 322.7C420.4 318.1 419.9 317.5 418.6 313.4C417.3 309.3 413.2 309.3 417.0 307.5Z" fill="#d26f76" fill-opacity="0.53"/>
<path d="M591.4 296.1C594.1 295.5 594.9 294.6 601.4 293.7C607.9 292.8 611.9 292.9 615.7 292.6C615.4 294.5 615.7 296.2 614.4 299.9C613.1 303.6 612.8 302.3 611.0 306.5C609.2 310.7 609.3 311.2 607.7 315.8C606.1 320.4 606.5 319.2 605.1 323.8C603.7 328.4 603.7 328.1 602.4 333.0C601.1 337.9 601.5 337.4 600.4 342.3C599.3 347.2 599.2 344.4 598.4 351.4C597.6 358.4 597.8 359.8 597.3 368.4C596.8 377.0 597.6 376.0 596.7 383.6C595.8 391.2 595.9 389.7 594.0 396.8C592.1 403.9 592.4 403.5 589.7 410.1C587.0 416.7 587.3 415.4 584.0 421.5C580.7 427.6 581.9 426.7 577.4 432.8C572.9 438.9 572.7 438.1 567.0 444.5C561.3 450.9 561.8 451.1 555.9 456.8C550.0 462.5 549.4 462.3 544.7 465.7C540.0 469.1 543.4 468.1 538.1 469.5C532.8 470.9 531.8 470.2 524.7 470.8C517.6 471.4 518.4 471.5 511.3 471.7C504.2 471.9 504.4 472.4 497.9 471.7C491.4 471.0 492.1 471.2 486.8 469.0C481.5 466.8 483.9 468.0 477.9 463.5C471.9 459.0 471.0 458.6 464.3 452.0C457.6 445.4 458.5 445.8 452.9 438.7C447.3 431.6 447.7 433.1 443.4 425.5C439.1 417.9 439.6 418.4 436.8 410.3C434.0 402.2 434.5 403.3 433.0 395.2C431.5 387.1 432.1 386.7 431.1 380.0C430.1 373.3 430.0 376.2 429.4 369.9C428.8 363.6 429.3 362.4 428.8 356.2C428.3 350.0 428.1 351.4 427.4 346.8C426.7 342.2 426.8 343.1 426.1 338.8C425.4 334.5 425.8 335.1 424.7 330.8C423.6 326.5 423.7 327.3 422.1 322.7C420.5 318.1 420.1 317.5 418.7 313.4C417.3 309.3 412.9 309.1 416.7 307.5C420.5 305.9 428.9 305.9 432.8 307.5C436.7 309.1 431.4 309.7 431.4 313.4C431.4 317.1 431.7 317.5 432.8 321.4C433.9 325.3 433.1 324.5 435.4 328.1C437.7 331.7 438.5 331.6 441.5 334.8C444.5 338.0 444.3 336.9 446.8 340.1C449.3 343.3 448.3 343.4 450.8 346.8C453.3 350.2 453.0 350.7 456.2 352.8C459.4 354.9 459.4 353.5 462.9 354.8C466.4 356.1 466.3 355.3 469.5 357.5C472.7 359.7 472.9 359.6 474.9 362.9C476.9 366.2 476.0 365.8 476.9 369.9C477.8 374.0 476.7 373.6 478.1 378.2C479.5 382.8 478.6 383.2 482.1 387.2C485.6 391.2 484.9 390.8 491.1 393.2C497.3 395.6 498.8 395.1 505.2 396.2C511.6 397.3 508.8 397.5 515.2 397.2C521.6 396.9 522.2 396.6 529.2 395.2C536.2 393.8 536.4 394.4 541.4 392.1C546.4 389.8 545.5 390.2 548.0 386.4C550.5 382.6 549.5 383.2 550.8 377.9C552.1 372.6 551.4 371.6 552.7 366.5C554.0 361.4 553.6 361.7 555.6 358.9C557.6 356.1 556.8 356.5 560.3 356.1C563.8 355.7 565.3 359.0 568.8 357.5C572.3 356.0 570.2 355.4 573.5 350.5C576.8 345.6 576.5 345.2 581.3 339.3C586.1 333.4 587.5 332.4 591.4 328.3C595.3 324.2 594.0 327.1 595.8 323.8C597.6 320.5 598.9 320.4 598.2 315.8C597.5 311.2 595.3 311.1 593.1 306.5C590.9 301.9 590.5 301.3 590.0 298.5C589.5 295.7 591.0 296.7 591.4 296.1Z" fill="url(#gjw)"/>
<g clip-path="url(#cjaw)">
<path d="M455.2 353.6L467.3 356.7L474.1 362.7L477.1 374.8L479.4 383.9L485.5 390.8L496.1 394.5L508.2 396.8L518.8 396.8L530.0 395.3L541.4 392.1L548.0 386.4L550.8 377.9L552.7 366.5L555.6 358.9L562.0 355.5L572.0 352.0L564.0 355.5L571.5 366.0L572.5 378.0L568.5 390.5L561.0 401.0L550.5 408.5L535.0 413.2L522.0 414.3L509.7 413.5L497.6 412.7L485.5 409.7L477.9 402.1L470.3 391.5L462.7 379.4L458.2 367.3L456.7 356.7Z" fill="#c64f57" fill-opacity="0.6" filter="url(#b1)"/>
<path d="M457 357C466 357 473 361 475 368C477 376 479 384 484 390C478 398 470 392 463 380C459 372 457 364 457 357Z" fill="#c24b54" fill-opacity="0.45" filter="url(#b1)"/>
<path d="M564 355.5C558 356 555.5 360 554.5 364C553 372 552 380 548.5 387C545 391 552 403 561 399C568 393 572 384 572 374C572 366 569 360 564 355.5Z" fill="#c24b54" fill-opacity="0.45" filter="url(#b1)"/>
<path d="M455.3 353.8L456.6 356.4M458.3 354.8L457.6 358.6M461.2 355.7L458.1 363.3M464.2 356.7L460.3 364.3M467.2 357.9L460.5 369.9M469.5 360.1L463.7 370.2M471.9 362.3L463.3 376.7M473.8 364.8L467.2 376.3M474.6 368.0L467.0 383.1M475.5 371.1L470.5 382.7M476.3 374.3L470.8 389.4M477.2 377.4L473.9 388.9M478.1 380.5L474.9 395.6M478.9 383.7L477.4 395.1M480.6 386.4L479.2 401.5M482.7 388.8L482.1 400.5M484.9 391.3L484.5 406.8M487.8 392.7L487.7 404.6M490.9 393.8L491.3 409.3M494.0 394.8L494.6 406.5M497.1 395.8L498.5 411.0M500.3 396.3L501.7 407.7M503.5 396.9L505.9 411.5M506.7 397.5L508.9 408.4M510.0 397.8L513.2 412.1M513.2 397.8L516.1 408.8M516.5 397.8L520.6 412.5M519.8 397.8L523.2 408.9M523.0 397.3L528.0 412.0M526.2 396.9L530.4 408.2M529.5 396.5L535.4 411.1M532.7 395.7L537.4 406.7M535.8 394.8L542.5 409.0M538.9 393.9L544.3 404.6M542.1 393.0L549.6 406.9M544.5 390.9L550.7 401.4M547.0 388.7L555.6 402.5M549.0 386.3L556.3 397.0M550.1 383.2L560.9 397.6M551.2 380.2L560.2 391.1M552.0 377.0L565.0 391.5M552.7 373.8L563.5 384.9M553.2 370.6L568.0 384.8M553.8 367.4L565.5 377.9M555.0 364.4L570.3 377.7M556.1 361.3L567.1 371.0M558.0 358.9L570.5 370.5M560.6 357.3L568.2 364.7M563.3 355.8L569.8 363.7M566.0 354.6L567.6 359.4M568.8 353.4L566.5 358.0M571.5 352.2L566.4 354.4" stroke="#b2444e" stroke-opacity="0.5" stroke-width="1" fill="none" stroke-linecap="round" filter="url(#b0)"/>
<path d="M460.4 357.9L462.7 359.6L465.3 361.3L467.4 363.9L469.4 366.4L471.3 369.1L472.4 372.3L473.6 375.5L474.7 378.6L475.9 381.7L477.1 384.8L478.4 388.0L480.2 390.7L482.5 393.2L484.8 395.7" stroke="#b2444e" stroke-opacity="0.45" stroke-width="0.9" fill="none" filter="url(#b0)"/>
<path d="M546.8 394.8L549.5 392.7L551.7 390.3L553.2 387.3L554.6 384.3L555.8 381.2L556.7 378.0L557.5 374.7L558.2 371.4L559.3 368.2L560.2 365.0L561.5 362.2L563.4 360.1L565.1 358.0L566.6 356.4" stroke="#b2444e" stroke-opacity="0.45" stroke-width="0.9" fill="none" filter="url(#b0)"/>
<path d="M459.2 360.6L460.9 363.1L462.9 365.6L464.6 368.6L466.4 371.6L468.2 374.5L469.7 377.7L471.3 380.9L472.8 384.0L474.4 387.1L476.0 390.2L477.6 393.3L479.7 396.1L482.2 398.7L484.6 401.2" stroke="#b2444e" stroke-opacity="0.4" stroke-width="0.9" fill="none" filter="url(#b0)"/>
<path d="M549.7 399.8L552.5 397.6L555.1 395.3L557.1 392.5L558.8 389.4L560.4 386.3L561.8 383.2L562.7 379.7L563.7 376.3L564.8 372.9L565.4 369.5L566.0 366.4L567.0 363.5L567.5 360.9L567.4 358.6" stroke="#b2444e" stroke-opacity="0.4" stroke-width="0.9" fill="none" filter="url(#b0)"/>
<path d="M455.3 353.7L458.3 354.6L461.3 355.6L464.4 356.5L467.3 357.6L469.7 359.8L472.1 362.0L474.0 364.5L474.8 367.6L475.6 370.8L476.4 373.9L477.3 377.1L478.1 380.2L479.0 383.3L480.6 386.1L482.8 388.5L484.9 390.9L487.8 392.3L490.9 393.4L493.9 394.5L497.0 395.4L500.3 396.0L503.5 396.6L506.7 397.2L509.9 397.5L513.1 397.5L516.4 397.5L519.7 397.4L522.9 397.0L526.1 396.6L529.3 396.1L532.5 395.4L535.6 394.5L538.8 393.6L541.9 392.7L544.4 390.5L546.8 388.4L548.8 386.0L549.9 382.9L550.9 379.8L551.7 376.7L552.3 373.5L552.9 370.3L553.5 367.1L554.6 364.0L555.7 361.0L557.7 358.7L560.4 357.1L563.1 355.6L566.0 354.4L568.8 353.3L571.7 352.1" stroke="#ea787c" stroke-opacity="0.7" stroke-width="1.2" fill="none" filter="url(#b0)"/>
<path d="M461.0 385.0C462.9 387.1 463.7 391.6 468.0 398.0C472.3 404.4 471.7 404.2 477.0 409.0C482.3 413.8 480.5 413.2 488.0 416.0C495.5 418.8 495.1 418.7 505.0 419.5C514.9 420.3 515.1 420.3 525.0 419.0C534.9 417.7 533.7 418.0 542.0 414.5C550.3 411.0 549.9 411.2 556.0 406.0C562.1 400.8 561.3 401.1 565.0 395.0C568.7 388.9 568.7 384.9 570.0 383.0C571.3 381.1 571.3 383.5 570.0 388.0C568.7 392.5 568.7 393.9 565.0 400.0C561.3 406.1 562.1 405.8 556.0 411.0C549.9 416.2 550.3 416.0 542.0 419.5C533.7 423.0 534.9 422.7 525.0 424.0C515.1 425.3 514.9 425.3 505.0 424.5C495.1 423.7 495.5 423.8 488.0 421.0C480.5 418.2 482.3 418.8 477.0 414.0C471.7 409.2 472.3 409.4 468.0 403.0C463.7 396.6 462.9 394.8 461.0 390.0C459.1 385.2 459.1 382.9 461.0 385.0Z" fill="#ea7478" fill-opacity="0.55" filter="url(#b2)"/>
<path d="M463.0 405.0C466.2 407.9 467.8 414.3 475.0 421.0C482.2 427.7 480.1 426.8 490.0 430.0C499.9 433.2 500.3 433.0 512.0 433.0C523.7 433.0 523.6 433.2 534.0 430.0C544.4 426.8 542.7 427.1 551.0 421.0C559.3 414.9 561.3 409.4 565.0 407.0C568.7 404.6 568.7 406.9 565.0 412.0C561.3 417.1 559.3 419.9 551.0 426.0C542.7 432.1 544.4 431.8 534.0 435.0C523.6 438.2 523.7 438.0 512.0 438.0C500.3 438.0 499.9 438.2 490.0 435.0C480.1 431.8 482.2 432.7 475.0 426.0C467.8 419.3 466.2 415.6 463.0 410.0C459.8 404.4 459.8 402.1 463.0 405.0Z" fill="#cf565c" fill-opacity="0.5" filter="url(#b2)"/>
<path d="M425 309C427 318 430 328 434 338C437 346 439 354 440 364" stroke="#ec787b" stroke-opacity="0.3" stroke-width="2.4" fill="none" filter="url(#b1)"/>
<path d="M607 295C603 306 600 316 596 326C592 338 589 348 588 360" stroke="#ec787b" stroke-opacity="0.3" stroke-width="2.4" fill="none" filter="url(#b1)"/>
<path d="M591.4 296.1C594.1 295.5 594.9 294.6 601.4 293.7C607.9 292.8 611.9 292.9 615.7 292.6C615.4 294.5 615.7 296.2 614.4 299.9C613.1 303.6 612.8 302.3 611.0 306.5C609.2 310.7 609.3 311.2 607.7 315.8C606.1 320.4 606.5 319.2 605.1 323.8C603.7 328.4 603.7 328.1 602.4 333.0C601.1 337.9 601.5 337.4 600.4 342.3C599.3 347.2 599.2 344.4 598.4 351.4C597.6 358.4 597.8 359.8 597.3 368.4C596.8 377.0 597.6 376.0 596.7 383.6C595.8 391.2 595.9 389.7 594.0 396.8C592.1 403.9 592.4 403.5 589.7 410.1C587.0 416.7 587.3 415.4 584.0 421.5C580.7 427.6 581.9 426.7 577.4 432.8C572.9 438.9 572.7 438.1 567.0 444.5C561.3 450.9 561.8 451.1 555.9 456.8C550.0 462.5 549.4 462.3 544.7 465.7C540.0 469.1 543.4 468.1 538.1 469.5C532.8 470.9 531.8 470.2 524.7 470.8C517.6 471.4 518.4 471.5 511.3 471.7C504.2 471.9 504.4 472.4 497.9 471.7C491.4 471.0 492.1 471.2 486.8 469.0C481.5 466.8 483.9 468.0 477.9 463.5C471.9 459.0 471.0 458.6 464.3 452.0C457.6 445.4 458.5 445.8 452.9 438.7C447.3 431.6 447.7 433.1 443.4 425.5C439.1 417.9 439.6 418.4 436.8 410.3C434.0 402.2 434.5 403.3 433.0 395.2C431.5 387.1 432.1 386.7 431.1 380.0C430.1 373.3 430.0 376.2 429.4 369.9C428.8 363.6 429.3 362.4 428.8 356.2C428.3 350.0 428.1 351.4 427.4 346.8C426.7 342.2 426.8 343.1 426.1 338.8C425.4 334.5 425.8 335.1 424.7 330.8C423.6 326.5 423.7 327.3 422.1 322.7C420.5 318.1 420.1 317.5 418.7 313.4C417.3 309.3 412.9 309.1 416.7 307.5C420.5 305.9 428.9 305.9 432.8 307.5C436.7 309.1 431.4 309.7 431.4 313.4C431.4 317.1 431.7 317.5 432.8 321.4C433.9 325.3 433.1 324.5 435.4 328.1C437.7 331.7 438.5 331.6 441.5 334.8C444.5 338.0 444.3 336.9 446.8 340.1C449.3 343.3 448.3 343.4 450.8 346.8C453.3 350.2 453.0 350.7 456.2 352.8C459.4 354.9 459.4 353.5 462.9 354.8C466.4 356.1 466.3 355.3 469.5 357.5C472.7 359.7 472.9 359.6 474.9 362.9C476.9 366.2 476.0 365.8 476.9 369.9C477.8 374.0 476.7 373.6 478.1 378.2C479.5 382.8 478.6 383.2 482.1 387.2C485.6 391.2 484.9 390.8 491.1 393.2C497.3 395.6 498.8 395.1 505.2 396.2C511.6 397.3 508.8 397.5 515.2 397.2C521.6 396.9 522.2 396.6 529.2 395.2C536.2 393.8 536.4 394.4 541.4 392.1C546.4 389.8 545.5 390.2 548.0 386.4C550.5 382.6 549.5 383.2 550.8 377.9C552.1 372.6 551.4 371.6 552.7 366.5C554.0 361.4 553.6 361.7 555.6 358.9C557.6 356.1 556.8 356.5 560.3 356.1C563.8 355.7 565.3 359.0 568.8 357.5C572.3 356.0 570.2 355.4 573.5 350.5C576.8 345.6 576.5 345.2 581.3 339.3C586.1 333.4 587.5 332.4 591.4 328.3C595.3 324.2 594.0 327.1 595.8 323.8C597.6 320.5 598.9 320.4 598.2 315.8C597.5 311.2 595.3 311.1 593.1 306.5C590.9 301.9 590.5 301.3 590.0 298.5C589.5 295.7 591.0 296.7 591.4 296.1Z" fill="none" stroke="#c5525a" stroke-opacity="0.55" stroke-width="3" filter="url(#b1)"/>
<circle cx="461" cy="428.3" r="2.6" fill="#c24e57" fill-opacity="0.75" filter="url(#b1)"/>
<circle cx="460.4" cy="427.5" r="1.3" fill="#ee8286" fill-opacity="0.85"/>
<circle cx="467.6" cy="428" r="2.6" fill="#c24e57" fill-opacity="0.75" filter="url(#b1)"/>
<circle cx="467.0" cy="427.2" r="1.3" fill="#ee8286" fill-opacity="0.85"/>
<circle cx="561.6" cy="429.6" r="2.6" fill="#c24e57" fill-opacity="0.75" filter="url(#b1)"/>
<circle cx="561.0" cy="428.8" r="1.3" fill="#ee8286" fill-opacity="0.85"/>
<circle cx="568.6" cy="425.2" r="2.6" fill="#c24e57" fill-opacity="0.75" filter="url(#b1)"/>
<circle cx="568.0" cy="424.4" r="1.3" fill="#ee8286" fill-opacity="0.85"/>
</g>
</g>
<text x="166.3" y="256.6" class="cap" text-anchor="middle">(a) 4-dim NLPCA</text>
<text x="504.5" y="256.6" class="cap" text-anchor="middle">(b) 5-dim NLPCA</text>
<text x="166.4" y="514.8" class="cap" text-anchor="middle">(c) our model</text>
<text x="382.3" y="515.2" class="cap">(d)</text>
<text x="420.5" y="515.2" class="cap">pose with maximum error</text>
</svg>
</body></html>
